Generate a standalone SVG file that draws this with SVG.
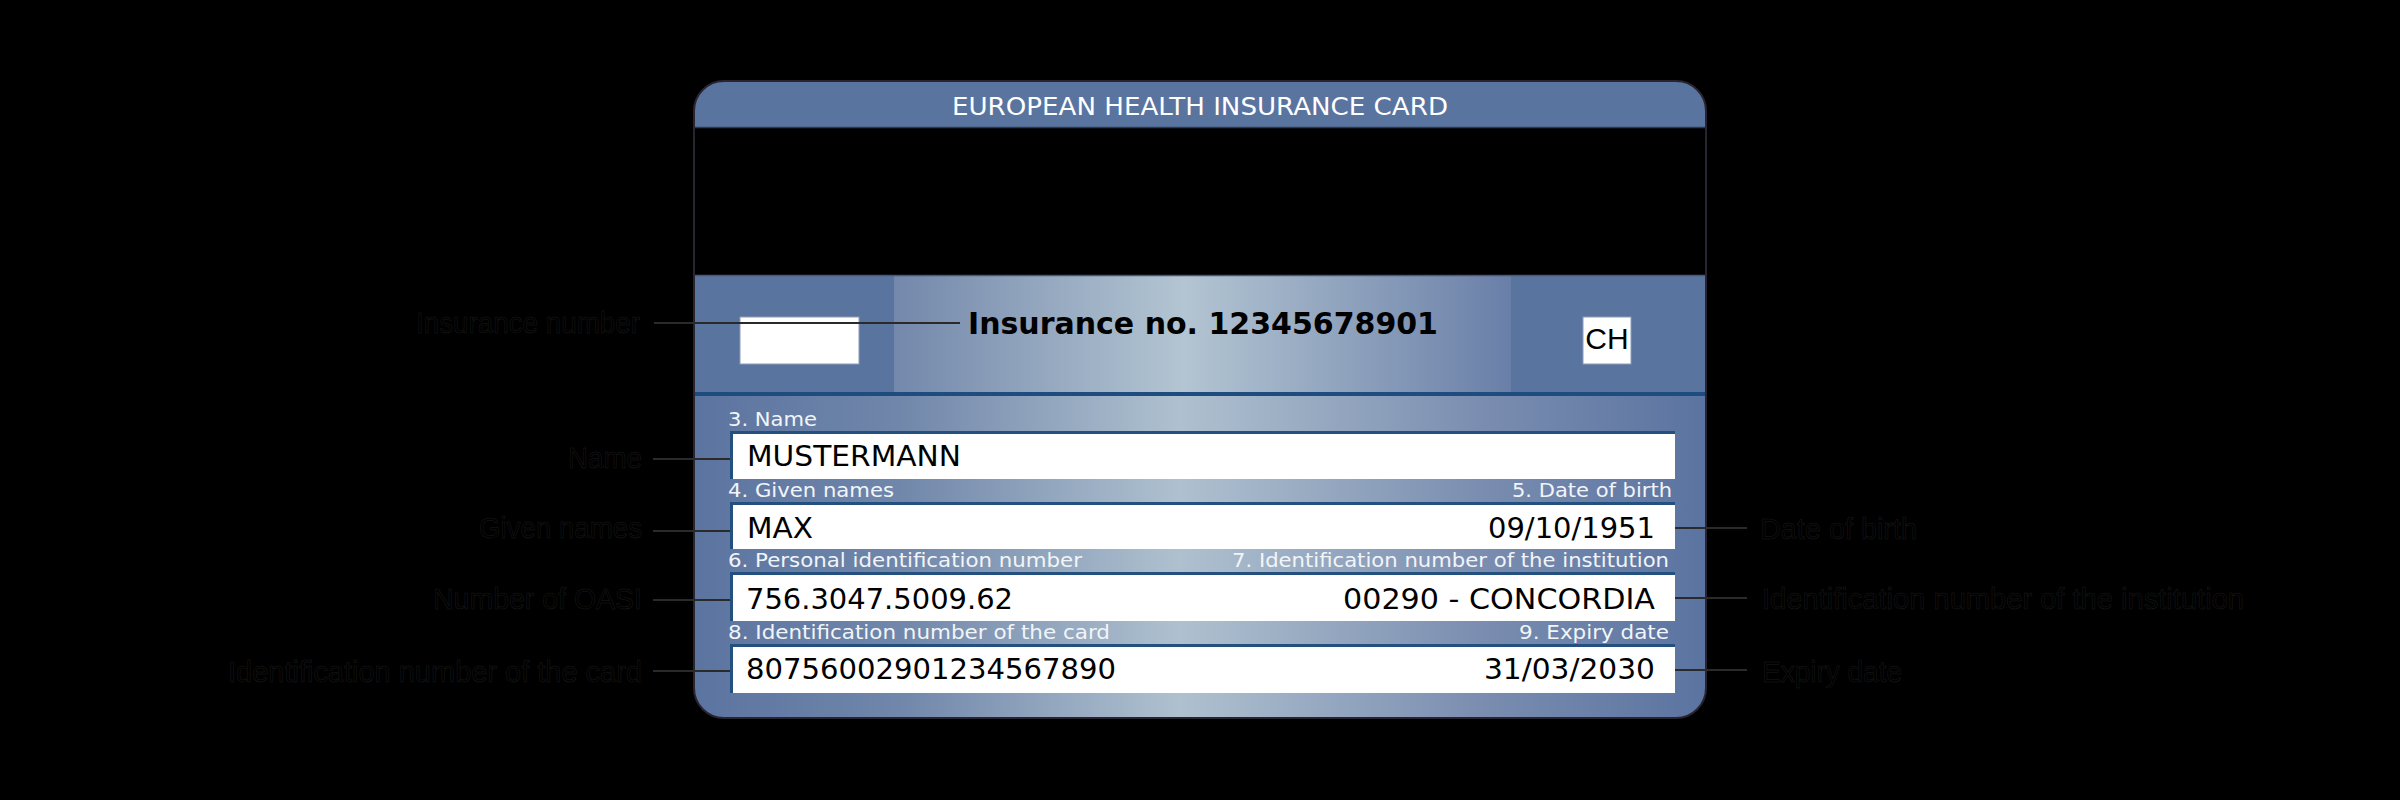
<svg xmlns="http://www.w3.org/2000/svg" width="2400" height="800" viewBox="0 0 2400 800">
<defs>
<style>
.out{font-family:"Liberation Sans",Arial,sans-serif;font-size:29px;fill:#000;stroke:#1c1c1c;stroke-width:0.5}
.lbl{font-family:"DejaVu Sans",Verdana,sans-serif;font-size:19px;fill:#f2f5f8}
.val{font-family:"DejaVu Sans",Verdana,sans-serif;font-size:29px;fill:#000}
.lead{stroke:#2a2a2a;stroke-width:2;fill:none}
.field{fill:#fff}
.fedge{fill:#24507f}
</style>
<linearGradient id="gLow" x1="694" y1="0" x2="1706" y2="0" gradientUnits="userSpaceOnUse">
<stop offset="0" stop-color="#5b74a0"/>
<stop offset="0.2" stop-color="#7086aa"/>
<stop offset="0.48" stop-color="#afc1cf"/>
<stop offset="0.78" stop-color="#7a8db0"/>
<stop offset="1" stop-color="#5a73a0"/>
</linearGradient>
<linearGradient id="gMid" x1="894" y1="0" x2="1511" y2="0" gradientUnits="userSpaceOnUse">
<stop offset="0" stop-color="#7388ab"/>
<stop offset="0.47" stop-color="#b3c5d2"/>
<stop offset="1" stop-color="#6a7fa8"/>
</linearGradient>
<clipPath id="cardClip"><rect x="694" y="81" width="1012" height="637" rx="30" ry="30"/></clipPath>
</defs>
<rect x="0" y="0" width="2400" height="800" fill="#000"/>
<g id="card">
<g clip-path="url(#cardClip)">
<rect x="694" y="81" width="1012" height="46" fill="#5a74a0"/>
<rect x="694" y="127" width="1012" height="148" fill="#000"/>
<line x1="694" y1="127.5" x2="1706" y2="127.5" stroke="#2d3850" stroke-width="1.5"/>
<rect x="694" y="275" width="200" height="117" fill="#5a74a0"/>
<rect x="894" y="275" width="617" height="117" fill="url(#gMid)"/>
<rect x="1511" y="275" width="195" height="117" fill="#5a74a0"/>
<line x1="694" y1="275.5" x2="1706" y2="275.5" stroke="#4a5672" stroke-width="1.5"/>
<rect x="694" y="392" width="1012" height="4" fill="#1f4c7e"/>
<rect x="694" y="396" width="1012" height="322" fill="url(#gLow)"/>
</g>
<rect x="694" y="81" width="1012" height="637" rx="30" ry="30" fill="none" stroke="#2a2430" stroke-width="2"/>
<text x="952" y="115" textLength="496" lengthAdjust="spacingAndGlyphs" style="font-family:'DejaVu Sans',Verdana,sans-serif;font-size:24px;fill:#fff">EUROPEAN HEALTH INSURANCE CARD</text>
</g>
<g id="photo-box">
<rect x="740" y="317" width="119" height="47" fill="#fff" stroke="#8d9bb6" stroke-width="1"/>
</g>
<g id="insurance-no">
<text x="968" y="334" textLength="470" lengthAdjust="spacingAndGlyphs" style="font-family:'DejaVu Sans',Verdana,sans-serif;font-size:30px;font-weight:bold;fill:#000">Insurance no. 12345678901</text>
</g>
<g id="country">
<rect x="1583" y="317" width="48" height="47" fill="#fff" stroke="#8d9bb6" stroke-width="1"/>
<text x="1607" y="349" text-anchor="middle" style="font-family:'Liberation Sans',Arial,sans-serif;font-size:30px;fill:#000">CH</text>
</g>
<g id="field-name">
<text class="lbl" x="728" y="426" textLength="89" lengthAdjust="spacingAndGlyphs">3. Name</text>
<rect class="fedge" x="730" y="431" width="945" height="48"/>
<rect class="field" x="733" y="434" width="942" height="45"/>
<text class="val" x="747" y="466" textLength="214" lengthAdjust="spacingAndGlyphs">MUSTERMANN</text>
</g>
<g id="field-given">
<text class="lbl" x="728" y="497" textLength="166" lengthAdjust="spacingAndGlyphs">4. Given names</text>
<text class="lbl" x="1512" y="497" textLength="160" lengthAdjust="spacingAndGlyphs">5. Date of birth</text>
<rect class="fedge" x="730" y="502" width="945" height="47"/>
<rect class="field" x="733" y="505" width="942" height="44"/>
<text class="val" x="747" y="538" textLength="66" lengthAdjust="spacingAndGlyphs">MAX</text>
<text class="val" x="1488" y="538" textLength="167" lengthAdjust="spacingAndGlyphs">09/10/1951</text>
</g>
<g id="field-pin">
<text class="lbl" x="728" y="567" textLength="354" lengthAdjust="spacingAndGlyphs">6. Personal identification number</text>
<text class="lbl" x="1232" y="567" textLength="437" lengthAdjust="spacingAndGlyphs">7. Identification number of the institution</text>
<rect class="fedge" x="730" y="572" width="945" height="49"/>
<rect class="field" x="733" y="575" width="942" height="46"/>
<text class="val" x="746" y="609" textLength="267" lengthAdjust="spacingAndGlyphs">756.3047.5009.62</text>
<text class="val" x="1343" y="609" textLength="312" lengthAdjust="spacingAndGlyphs">00290 - CONCORDIA</text>
</g>
<g id="field-card">
<text class="lbl" x="728" y="639" textLength="382" lengthAdjust="spacingAndGlyphs">8. Identification number of the card</text>
<text class="lbl" x="1519" y="639" textLength="150" lengthAdjust="spacingAndGlyphs">9. Expiry date</text>
<rect class="fedge" x="730" y="644" width="945" height="49"/>
<rect class="field" x="733" y="647" width="942" height="46"/>
<text class="val" x="746" y="679" textLength="370" lengthAdjust="spacingAndGlyphs">80756002901234567890</text>
<text class="val" x="1484" y="679" textLength="171" lengthAdjust="spacingAndGlyphs">31/03/2030</text>
</g>
<g id="connectors">
<line class="lead" x1="654" y1="323" x2="960" y2="323"/>
<line class="lead" x1="653" y1="459" x2="730" y2="459"/>
<line class="lead" x1="653" y1="531" x2="730" y2="531"/>
<line class="lead" x1="653" y1="600" x2="730" y2="600"/>
<line class="lead" x1="653" y1="671" x2="730" y2="671"/>
<line class="lead" x1="1675" y1="528" x2="1747" y2="528"/>
<line class="lead" x1="1675" y1="598" x2="1747" y2="598"/>
<line class="lead" x1="1675" y1="670" x2="1747" y2="670"/>
</g>
<g id="label-insurance-number"><text class="out" x="416" y="333" textLength="224" lengthAdjust="spacingAndGlyphs">Insurance number</text></g>
<g id="label-name"><text class="out" x="568" y="468" textLength="74" lengthAdjust="spacingAndGlyphs">Name</text></g>
<g id="label-given-names"><text class="out" x="479" y="538" textLength="163" lengthAdjust="spacingAndGlyphs">Given names</text></g>
<g id="label-oasi"><text class="out" x="433" y="609" textLength="209" lengthAdjust="spacingAndGlyphs">Number of OASI</text></g>
<g id="label-card-id"><text class="out" x="228" y="682" textLength="414" lengthAdjust="spacingAndGlyphs">Identification number of the card</text></g>
<g id="label-dob"><text class="out" x="1760" y="539" textLength="157" lengthAdjust="spacingAndGlyphs">Date of birth</text></g>
<g id="label-institution"><text class="out" x="1762" y="609" textLength="482" lengthAdjust="spacingAndGlyphs">Identification number of the institution</text></g>
<g id="label-expiry"><text class="out" x="1762" y="682" textLength="140" lengthAdjust="spacingAndGlyphs">Expiry date</text></g>
</svg>
